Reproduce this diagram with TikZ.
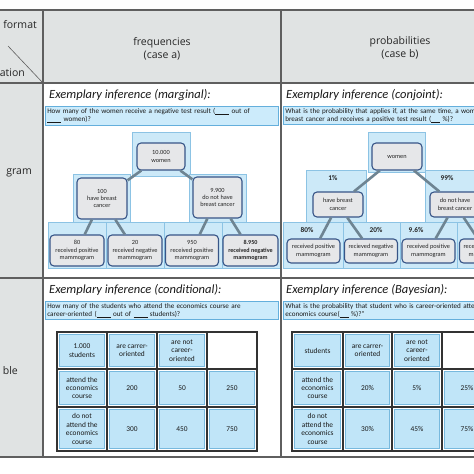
\documentclass[tikz,border=0pt]{standalone}
\usepackage{fontspec}
\setmainfont{Carlito}
\newfontfamily\hdfont{Open Sans}
\definecolor{hdgray}{RGB}{224,227,227}
\definecolor{gridc}{RGB}{95,95,95}
\definecolor{panel}{RGB}{204,233,248}
\definecolor{panelb}{RGB}{140,195,228}
\definecolor{qfill}{RGB}{204,235,251}
\definecolor{qbord}{RGB}{100,175,220}
\definecolor{nfill}{RGB}{230,231,233}
\definecolor{nbord}{RGB}{55,85,135}
\definecolor{conn}{RGB}{110,132,146}
\definecolor{cellf}{RGB}{192,229,248}
\definecolor{cellb}{RGB}{120,185,222}
\newcommand\blnk[1][14pt]{\rule[-0.6pt]{#1}{0.4pt}}
\tikzset{
  mgrid/.style={draw=gridc, line width=1.3pt},
  hdtext/.style={font=\hdfont\fontsize{10.5}{13}\selectfont, text=black!85, align=center, inner sep=0pt},
  panelbox/.style={fill=panel, draw=panelb, line width=0.5pt},
  tnode/.style={draw=nbord, fill=nfill, rounded corners=4pt, line width=1.1pt, align=center,
    font=\fontsize{6.3}{7.4}\selectfont, text=black!85, inner sep=0pt},
  conline/.style={draw=conn, line width=2.6pt},
  plabel/.style={font=\bfseries\fontsize{7.3}{8}\selectfont, text=black!85, inner sep=0pt},
  inf/.style={font=\itshape\fontsize{12.5}{14}\selectfont, text=black!90, anchor=west, inner sep=0pt},
  qbox/.style={fill=qfill, draw=qbord, line width=0.6pt, anchor=north west, align=left,
    font=\fontsize{7.1}{8.4}\selectfont, text=black!90, inner sep=2pt},
  tgrid/.style={draw=black!80, line width=1.2pt},
  tcell/.style={fill=cellf, draw=cellb, line width=0.5pt, align=center,
    font=\fontsize{7.4}{8.4}\selectfont, text=black!90, inner sep=0pt},
}
\begin{document}
\begin{tikzpicture}[x=1pt,y=-1pt]
\useasboundingbox (0,0) rectangle (474,474);
\clip (0,0) rectangle (474,474);
% main grid fills
\fill[hdgray] (0,10) rectangle (520,83);
\fill[hdgray] (0,83) rectangle (43,457);
% headers
\node[hdtext, anchor=east] (fmt) at (37,25) {format};
\node[hdtext, anchor=east] (rep) at (25,73) {ation};
\node[hdtext, anchor=east] (diag) at (32,173) {gram};
\node[hdtext, anchor=east] (tab) at (18,371) {ble};
\node[hdtext] (freq) at (162,49) {frequencies\\(case a)};
\node[hdtext] (prob) at (400,48) {probabilities\\(case b)};
\draw[draw=gridc, line width=0.6pt] (8,46) -- (43,83);

% ---------- Row 1 left: frequency tree ----------
\node[inf] (inf1) at (49,95) {Exemplary inference (marginal):};
\node[qbox, text width=229pt] (q1) at (45,106) {How many of the women receive a negative test result (\blnk\ out of\\\blnk\ women)?};
\draw[panelbox] (132,132) rectangle (190,176);
\draw[panelbox] (73,174) rectangle (130,222);
\draw[panelbox] (189,174) rectangle (246,222);
\draw[panelbox] (48,222) rectangle (106,268);
\draw[panelbox] (106,222) rectangle (164,268);
\draw[panelbox] (164,222) rectangle (222,268);
\draw[panelbox] (222,222) rectangle (280,268);
\node[tnode, minimum width=48pt, minimum height=27pt] (t0) at (161,156.5) {10.000\\women};
\node[tnode, minimum width=50pt, minimum height=41pt] (t1) at (102,198.5) {100\\have breast\\cancer};
\node[tnode, minimum width=49pt, minimum height=41pt] (t2) at (217.5,197.5) {9.900\\do not have\\breast cancer};
\node[tnode, minimum width=54pt, minimum height=31pt] (t11) at (77,250.5) {80\\received positive\\mammogram};
\node[tnode, minimum width=54pt, minimum height=31pt] (t12) at (135,250.5) {20\\received negative\\mammogram};
\node[tnode, minimum width=53pt, minimum height=31pt] (t21) at (192,250.5) {950\\received positive\\mammogram};
\node[tnode, minimum width=55pt, minimum height=31pt, font=\bfseries\fontsize{6.1}{7.4}\selectfont] (t22) at (250.5,250.5) {8.950\\received negative\\mammogram};
\draw[conline] (t0) -- (t1);
\draw[conline] (t0) -- (t2);
\draw[conline] (t1) -- (t11);
\draw[conline] (t1) -- (t12);
\draw[conline] (t2) -- (t21);
\draw[conline] (t2) -- (t22);

% ---------- Row 1 right: probability tree ----------
\node[inf] (inf2) at (286,95) {Exemplary inference (conjoint):};
\node[qbox, text width=240pt] (q2) at (283,106) {What is the probability that applies if, at the same time, a woman has\\breast cancer and receives a positive test result (\blnk[9pt] \%)?};
\draw[panelbox] (368,132) rectangle (425,172);
\draw[panelbox] (306,170) rectangle (366,222);
\draw[panelbox] (425,170) rectangle (485,222);
\draw[panelbox] (283,222) rectangle (343,268);
\draw[panelbox] (343,222) rectangle (400,268);
\draw[panelbox] (400,222) rectangle (457,268);
\draw[panelbox] (457,222) rectangle (514,268);
\node[plabel] (p1) at (333,178) {1\%};
\node[plabel] (p99) at (447,178) {99\%};
\node[plabel] (p80) at (307,230) {80\%};
\node[plabel] (p20) at (376,230) {20\%};
\node[plabel] (p96) at (416,230) {9.6\%};
\node[tnode, minimum width=50pt, minimum height=27pt] (r0) at (397,156.5) {women};
\node[tnode, minimum width=50pt, minimum height=25pt] (r1) at (338,204.5) {have breast\\cancer};
\node[tnode, minimum width=50pt, minimum height=25pt] (r2) at (455,204.5) {do not have\\breast cancer};
\node[tnode, minimum width=53pt, minimum height=24pt] (r11) at (313.5,251) {received positive\\mammogram};
\node[tnode, minimum width=53pt, minimum height=24pt] (r12) at (371,251) {recieved negative\\mammogram};
\node[tnode, minimum width=53pt, minimum height=24pt] (r21) at (428.5,251) {received positive\\mammogram};
\node[tnode, minimum width=53pt, minimum height=24pt] (r22) at (486,251) {received negative\\mammogram};
\draw[conline] (r0) -- (r1);
\draw[conline] (r0) -- (r2);
\draw[conline] (r1) -- (r11);
\draw[conline] (r1) -- (r12);
\draw[conline] (r2) -- (r21);
\draw[conline] (r2) -- (r22);

% ---------- Row 2 left: frequency table ----------
\node[inf] (inf3) at (49,290) {Exemplary inference (conditional):};
\node[qbox, text width=229pt] (q3) at (45,301) {How many of the students who attend the economics course are\\career-oriented (\blnk\ out of \blnk\ students)?};
\node[tcell, minimum width=45pt, minimum height=32pt] (a11) at (82,350.5) {1.000\\students};
\node[tcell, minimum width=45pt, minimum height=32pt] (a12) at (132,350.5) {are carrer-\\oriented};
\node[tcell, minimum width=45pt, minimum height=32pt] (a13) at (182,350.5) {are not\\career-\\oriented};
\node[tcell, minimum width=45pt, minimum height=33pt] (a21) at (82,388) {attend the\\economics\\course};
\node[tcell, minimum width=45pt, minimum height=33pt] (a22) at (132,388) {200};
\node[tcell, minimum width=45pt, minimum height=33pt] (a23) at (182,388) {50};
\node[tcell, minimum width=45pt, minimum height=33pt] (a24) at (232,388) {250};
\node[tcell, minimum width=45pt, minimum height=39pt] (a31) at (82,429) {do not\\attend the\\economics\\course};
\node[tcell, minimum width=45pt, minimum height=39pt] (a32) at (132,429) {300};
\node[tcell, minimum width=45pt, minimum height=39pt] (a33) at (182,429) {450};
\node[tcell, minimum width=45pt, minimum height=39pt] (a34) at (232,429) {750};
\draw[tgrid] (57,332) rectangle (257,451);
\draw[tgrid] (107,332) -- (107,451) (157,332) -- (157,451) (207,332) -- (207,451)
  (57,369) -- (257,369) (57,407) -- (257,407);

% ---------- Row 2 right: probability table ----------
\node[inf] (inf4) at (286,290) {Exemplary inference (Bayesian):};
\node[qbox, text width=240pt] (q4) at (283,301) {What is the probability that student who is career-oriented attends the\\economics course(\blnk[9pt] \%)?”};
\node[tcell, minimum width=46pt, minimum height=32pt] (b11) at (317.5,350.5) {students};
\node[tcell, minimum width=44pt, minimum height=32pt] (b12) at (367.5,350.5) {are carrer-\\oriented};
\node[tcell, minimum width=45pt, minimum height=32pt] (b13) at (417,350.5) {are not\\career-\\oriented};
\node[tcell, minimum width=46pt, minimum height=33pt] (b21) at (317.5,388) {attend the\\economics\\course};
\node[tcell, minimum width=44pt, minimum height=33pt] (b22) at (367.5,388) {20\%};
\node[tcell, minimum width=45pt, minimum height=33pt] (b23) at (417,388) {5\%};
\node[tcell, minimum width=45pt, minimum height=33pt] (b24) at (467,388) {25\%};
\node[tcell, minimum width=46pt, minimum height=39pt] (b31) at (317.5,429) {do not\\attend the\\economics\\course};
\node[tcell, minimum width=44pt, minimum height=39pt] (b32) at (367.5,429) {30\%};
\node[tcell, minimum width=45pt, minimum height=39pt] (b33) at (417,429) {45\%};
\node[tcell, minimum width=45pt, minimum height=39pt] (b34) at (467,429) {75\%};
\draw[tgrid] (292,332) rectangle (492,451);
\draw[tgrid] (343,332) -- (343,451) (392,332) -- (392,451) (442,332) -- (442,451)
  (292,369) -- (492,369) (292,407) -- (492,407);

% main grid lines
\draw[mgrid] (0,10) -- (520,10);
\draw[mgrid] (0,83) -- (520,83);
\draw[mgrid] (0,278) -- (520,278);
\draw[mgrid] (0,457) -- (520,457);
\draw[mgrid] (43,10) -- (43,457);
\draw[mgrid] (281,10) -- (281,457);
\end{tikzpicture}
\end{document}
